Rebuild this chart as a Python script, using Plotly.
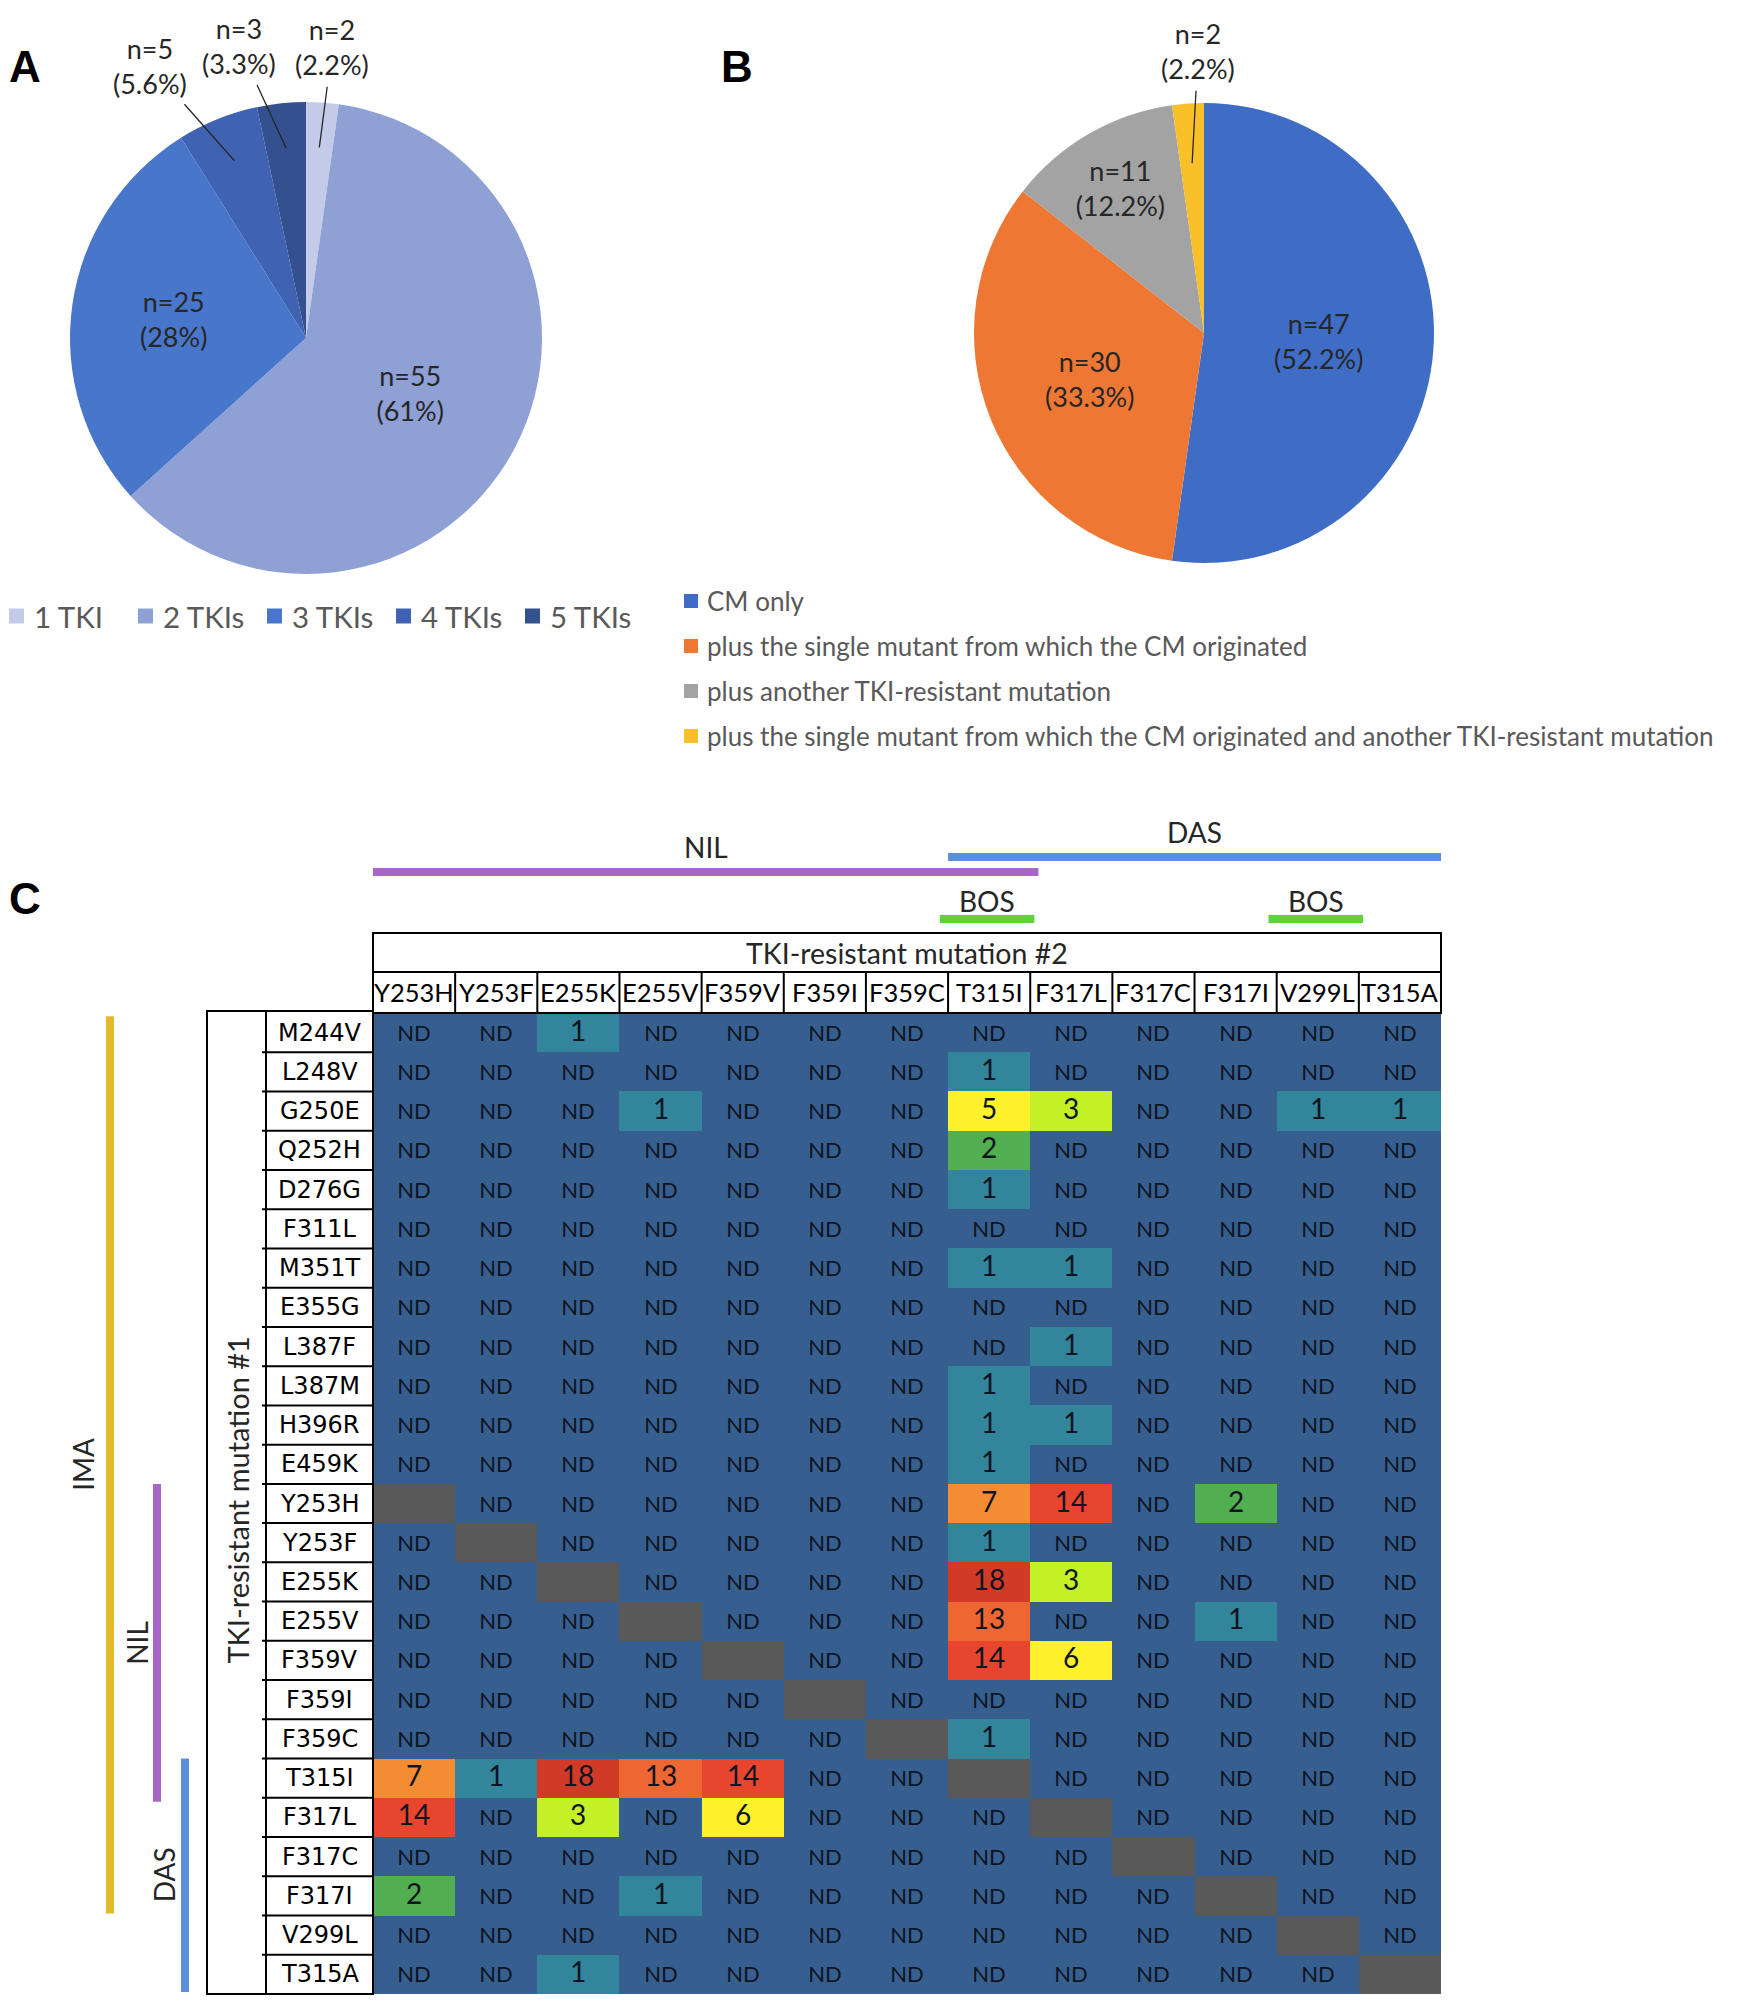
import math
import plotly.graph_objects as go

# ---- data -------------------------------------------------------------
tki_labels = ["1 TKI", "2 TKIs", "3 TKIs", "4 TKIs", "5 TKIs"]
tki_counts = [2, 55, 25, 5, 3]

cm_labels = [
    "CM only",
    "plus the single mutant from which the CM originated",
    "plus another TKI-resistant mutation",
    "plus the single mutant from which the CM originated and another TKI-resistant mutation",
]
cm_counts = [47, 30, 11, 2]

mut2_labels = ["Y253H", "Y253F", "E255K", "E255V", "F359V", "F359I", "F359C",
               "T315I", "F317L", "F317C", "F317I", "V299L", "T315A"]
mut1_labels = ["M244V", "L248V", "G250E", "Q252H", "D276G", "F311L", "M351T",
               "E355G", "L387F", "L387M", "H396R", "E459K", "Y253H", "Y253F",
               "E255K", "E255V", "F359V", "F359I", "F359C", "T315I", "F317L",
               "F317C", "F317I", "V299L", "T315A"]
# 0 = ND (not detected); same mutation on both axes is greyed out
pair_counts = [
    [0, 0, 1, 0, 0, 0, 0, 0, 0, 0, 0, 0, 0],
    [0, 0, 0, 0, 0, 0, 0, 1, 0, 0, 0, 0, 0],
    [0, 0, 0, 1, 0, 0, 0, 5, 3, 0, 0, 1, 1],
    [0, 0, 0, 0, 0, 0, 0, 2, 0, 0, 0, 0, 0],
    [0, 0, 0, 0, 0, 0, 0, 1, 0, 0, 0, 0, 0],
    [0, 0, 0, 0, 0, 0, 0, 0, 0, 0, 0, 0, 0],
    [0, 0, 0, 0, 0, 0, 0, 1, 1, 0, 0, 0, 0],
    [0, 0, 0, 0, 0, 0, 0, 0, 0, 0, 0, 0, 0],
    [0, 0, 0, 0, 0, 0, 0, 0, 1, 0, 0, 0, 0],
    [0, 0, 0, 0, 0, 0, 0, 1, 0, 0, 0, 0, 0],
    [0, 0, 0, 0, 0, 0, 0, 1, 1, 0, 0, 0, 0],
    [0, 0, 0, 0, 0, 0, 0, 1, 0, 0, 0, 0, 0],
    [0, 0, 0, 0, 0, 0, 0, 7, 14, 0, 2, 0, 0],
    [0, 0, 0, 0, 0, 0, 0, 1, 0, 0, 0, 0, 0],
    [0, 0, 0, 0, 0, 0, 0, 18, 3, 0, 0, 0, 0],
    [0, 0, 0, 0, 0, 0, 0, 13, 0, 0, 1, 0, 0],
    [0, 0, 0, 0, 0, 0, 0, 14, 6, 0, 0, 0, 0],
    [0, 0, 0, 0, 0, 0, 0, 0, 0, 0, 0, 0, 0],
    [0, 0, 0, 0, 0, 0, 0, 1, 0, 0, 0, 0, 0],
    [7, 1, 18, 13, 14, 0, 0, 0, 0, 0, 0, 0, 0],
    [14, 0, 3, 0, 6, 0, 0, 0, 0, 0, 0, 0, 0],
    [0, 0, 0, 0, 0, 0, 0, 0, 0, 0, 0, 0, 0],
    [2, 0, 0, 1, 0, 0, 0, 0, 0, 0, 0, 0, 0],
    [0, 0, 0, 0, 0, 0, 0, 0, 0, 0, 0, 0, 0],
    [0, 0, 1, 0, 0, 0, 0, 0, 0, 0, 0, 0, 0],
]

# ---- styling ----------------------------------------------------------
PAGE_W, PAGE_H = 1737, 2003
BODY = 8                      # default body margin of the html page
W, H = PAGE_W - 2 * BODY, PAGE_H - 2 * BODY
TXT = "#262626"
LEG_TXT = "#595959"
LABEL_FONT = "Lato"
tki_colors = ["#C3CBE9", "#8EA0D4", "#4876CB", "#3F63B2", "#34508F"]
cm_colors = ["#3F6DC5", "#EE7833", "#A3A3A3", "#F9C02A"]
# colour per count level (-1 = same mutation, 0 = ND)
level_colors = {-1: "#595959", 0: "#365F90", 1: "#32859B", 2: "#51AF4F",
                3: "#C4F026", 5: "#FFF12C", 6: "#FFF12C", 7: "#F48C33",
                13: "#EE6631", 14: "#E8452E", 18: "#D03A27"}


def px(x):
    """page pixel -> paper x"""
    return (x - BODY) / W


def py(y):
    """page pixel -> paper y"""
    return 1 - (y - BODY) / H


def pie_domain(cx, cy, r):
    return dict(x=[px(cx - r), px(cx + r)], y=[py(cy + r), py(cy - r)])


def note(x, y, text, size=25, color=TXT, family=LABEL_FONT, xref="paper", yref="paper", **kw):
    d = dict(x=x, y=y, xref=xref, yref=yref, text=text, showarrow=False,
             xanchor="center", yanchor="middle",
             font=dict(family=family, size=size, color=color))
    d.update(kw)
    return d


def swatch(x0, yc, size, color):
    return dict(type="rect", xref="paper", yref="paper",
                x0=px(x0), x1=px(x0 + size), y0=py(yc + size / 2), y1=py(yc - size / 2),
                fillcolor=color, line=dict(width=0))


fig = go.Figure()
annotations = []
shapes = []
PIE_FONT = dict(family=LABEL_FONT, size=27, color=TXT)

# ---- panel A ----------------------------------------------------------
A_CX, A_CY, A_R = 306, 338, 236
tot_a = sum(tki_counts)
a_text = [f"n={v}<br>({v / tot_a * 100:.2g}%)" for v in tki_counts]
a_inside = [v / tot_a > 0.1 for v in tki_counts]
fig.add_trace(go.Pie(
    labels=tki_labels, values=tki_counts, sort=False, direction="clockwise",
    rotation=0, domain=pie_domain(A_CX, A_CY, A_R),
    marker=dict(colors=tki_colors, line=dict(width=0)),
    text=a_text, textinfo="text",
    textposition=["inside" if s else "none" for s in a_inside],
    insidetextorientation="horizontal", textfont=PIE_FONT,
    hoverinfo="skip", showlegend=False,
))

# ---- panel B ----------------------------------------------------------
B_CX, B_CY, B_R = 1204, 333, 230
tot_b = sum(cm_counts)
b_text = [f"n={v}<br>({v / tot_b * 100:.1f}%)" for v in cm_counts]
b_inside = [v / tot_b > 0.1 for v in cm_counts]
fig.add_trace(go.Pie(
    labels=cm_labels, values=cm_counts, sort=False, direction="clockwise",
    rotation=0, domain=pie_domain(B_CX, B_CY, B_R),
    marker=dict(colors=cm_colors, line=dict(width=0)),
    text=b_text, textinfo="text",
    textposition=["inside" if s else "none" for s in b_inside],
    insidetextorientation="horizontal", textfont=PIE_FONT,
    hoverinfo="skip", showlegend=False,
))

# callouts for the thin slices (label offsets in pixels)
callouts = [
    (A_CX, A_CY, A_R, tki_counts, 0, 0.81, (13, -100), a_text),
    (A_CX, A_CY, A_R, tki_counts, 3, 0.81, (-84, -95), a_text),
    (A_CX, A_CY, A_R, tki_counts, 4, 0.81, (-47, -102), a_text),
    (B_CX, B_CY, B_R, cm_counts, 3, 0.74, (6, -112), b_text),
]
for cx, cy, r, vals, k, frac, (ox, oy), texts in callouts:
    mid = (sum(vals[:k]) + vals[k] / 2) / sum(vals) * 2 * math.pi
    tx = cx + frac * r * math.sin(mid)
    ty = cy - frac * r * math.cos(mid)
    annotations.append(dict(
        x=px(tx), y=py(ty), xref="paper", yref="paper", text=texts[k],
        showarrow=True, arrowhead=0, arrowwidth=1.3, arrowcolor="#262626",
        ax=ox, ay=oy, startstandoff=4, font=PIE_FONT))

# legend for A: one row
for i, (lab, col) in enumerate(zip(tki_labels, tki_colors)):
    x0 = 9 + 129 * i
    shapes.append(swatch(x0, 616, 15, col))
    annotations.append(note(px(x0 + 23), py(616), lab, size=29.5, color=LEG_TXT, xanchor="left"))

# legend for B: one column
for i, (lab, col) in enumerate(zip(cm_labels, cm_colors)):
    yc = 601 + 45 * i
    shapes.append(swatch(684, yc, 14, col))
    annotations.append(note(px(705), py(yc), lab, size=26, color=LEG_TXT, xanchor="left"))

# panel letters
for letter, (lx, ly) in zip("ABC", [(25, 66), (737, 66), (25, 898)]):
    annotations.append(note(px(lx), py(ly), f"<b>{letter}</b>", size=44,
                            color="black", family="Liberation Sans"))

# ---- panel C heatmap --------------------------------------------------
levels = sorted(level_colors)
n_lev = len(levels)
colorscale = []
for i, lv in enumerate(levels):
    colorscale.append([i / n_lev, level_colors[lv]])
    colorscale.append([(i + 1) / n_lev, level_colors[lv]])

z_idx, cell_text = [], []
for r_name, row in zip(mut1_labels, pair_counts):
    zr, tr = [], []
    for c_name, v in zip(mut2_labels, row):
        if r_name == c_name:
            zr.append(levels.index(-1))
            tr.append("")
        elif v == 0:
            zr.append(levels.index(0))
            tr.append("ND")
        else:
            zr.append(levels.index(v))
            tr.append(f"<span style='font-size:28px'>{v}</span>")
    z_idx.append(zr)
    cell_text.append(tr)

fig.add_trace(go.Heatmap(
    z=z_idx, x=list(range(len(mut2_labels))), y=list(range(len(mut1_labels))),
    text=cell_text, texttemplate="%{text}",
    textfont=dict(family=LABEL_FONT, size=22, color="#0E1420"),
    colorscale=colorscale, zmin=-0.5, zmax=n_lev - 0.5, showscale=False,
    hoverinfo="skip", xaxis="x", yaxis="y",
))

T_LEFT, T_RIGHT, T_TOP, T_BOT = 373, 1441, 1013, 1994
HDR_TOP, HDR_MID = 933, 972
LAB_LEFT, LAB_MID = 207, 266
BLK = dict(color="black", width=2)

n_rows, n_cols = len(mut1_labels), len(mut2_labels)

# header box and column names
shapes.append(dict(type="rect", xref="paper", yref="paper", x0=px(T_LEFT), x1=px(T_RIGHT),
                   y0=py(T_TOP), y1=py(HDR_TOP), line=BLK))
shapes.append(dict(type="line", xref="paper", yref="paper", x0=px(T_LEFT), x1=px(T_RIGHT),
                   y0=py(HDR_MID), y1=py(HDR_MID), line=BLK))
annotations.append(note((px(T_LEFT) + px(T_RIGHT)) / 2, py((HDR_TOP + HDR_MID) / 2),
                        "TKI-resistant mutation #2", size=28.5))
for j, name in enumerate(mut2_labels):
    annotations.append(note(j, py((HDR_MID + T_TOP) / 2), name, size=25.5,
                            color="black", xref="x"))
    if j > 0:
        shapes.append(dict(type="line", xref="x", yref="paper", x0=j - 0.5, x1=j - 0.5,
                           y0=py(T_TOP), y1=py(HDR_MID), line=BLK))

# row label column
shapes.append(dict(type="rect", xref="paper", yref="paper", x0=px(LAB_LEFT), x1=px(T_LEFT),
                   y0=py(T_BOT), y1=py(T_TOP - 2), line=BLK))
shapes.append(dict(type="line", xref="paper", yref="paper", x0=px(LAB_MID), x1=px(LAB_MID),
                   y0=py(T_BOT), y1=py(T_TOP - 2), line=BLK))
for i, name in enumerate(mut1_labels):
    annotations.append(note(px((LAB_MID + T_LEFT) / 2), i, name, size=24,
                            color="black", family="DejaVu Sans", yref="y"))
    if i > 0:
        shapes.append(dict(type="line", xref="paper", yref="y", x0=px(LAB_MID - 4), x1=px(T_LEFT),
                           y0=i - 0.5, y1=i - 0.5, line=BLK))
annotations.append(note(px((LAB_LEFT + LAB_MID) / 2), py(1500), "TKI-resistant mutation #1",
                        size=29, textangle=-90))

# drug group bars above columns: (label, first, last, bar y, label y, colour)
top_groups = [
    ("NIL", -0.5, 7.6, 872, 847, "#A866C6"),
    ("DAS", 6.5, 12.5, 857, 832, "#5B8FDA"),
    ("BOS", 6.4, 7.55, 919, 901, "#5ED43A"),
    ("BOS", 10.4, 11.55, 919, 901, "#5ED43A"),
]
for lab, c0, c1, by, ly, col in top_groups:
    shapes.append(dict(type="line", xref="x", yref="paper", x0=c0, x1=c1,
                       y0=py(by), y1=py(by), line=dict(color=col, width=8)))
    annotations.append(note((c0 + c1) / 2, py(ly), lab, size=28, xref="x"))

# drug group bars beside rows: (label, first, last, bar x, label x, colour)
side_groups = [
    ("IMA", -0.42, 22.45, 110, 83, "#E5B82A"),
    ("NIL", 11.5, 19.6, 157, 137, "#A866C6"),
    ("DAS", 18.5, 24.45, 185, 164, "#5B8FDA"),
]
for lab, r0, r1, bx, lx, col in side_groups:
    shapes.append(dict(type="line", xref="paper", yref="y", x0=px(bx), x1=px(bx),
                       y0=r0, y1=r1, line=dict(color=col, width=8)))
    annotations.append(note(px(lx), (r0 + r1) / 2, lab, size=28, yref="y", textangle=-90))

fig.update_layout(
    width=W, height=H, autosize=False,
    margin=dict(l=0, r=0, t=0, b=0, autoexpand=False),
    paper_bgcolor="white", plot_bgcolor="white", showlegend=False,
    xaxis=dict(domain=[px(T_LEFT), px(T_RIGHT)], range=[-0.5, n_cols - 0.5], visible=False),
    yaxis=dict(domain=[py(T_BOT), py(T_TOP)], range=[n_rows - 0.5, -0.5], visible=False),
    shapes=shapes, annotations=annotations,
)

fig.write_html("out.html")
